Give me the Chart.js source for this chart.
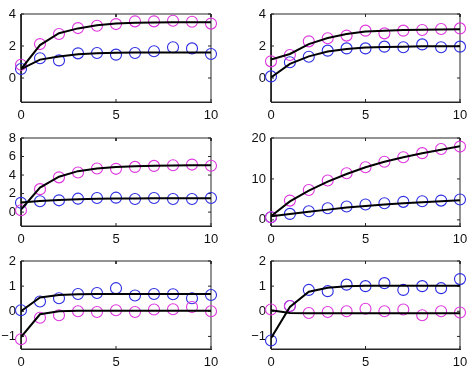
<!DOCTYPE html>
<html>
<head>
<meta charset="utf-8">
<script src="https://cdn.jsdelivr.net/npm/chart.js@4"></script>
<style>
  html, body { margin: 0; padding: 0; background: #ffffff; }
  body { width: 474px; height: 368px; position: relative; overflow: hidden; }
  .cv { position: absolute; }
</style>
</head>
<body>
<script>
// ---- data ----
const xValues = [0, 1, 2, 3, 4, 5, 6, 7, 8, 9, 10];
const xMin = 0, xMax = 10;
const xTickValues = [0, 5, 10];

const p1Magenta    = [0.83, 2.12, 2.75, 3.12, 3.27, 3.37, 3.54, 3.54, 3.58, 3.52, 3.40];
const p1MagentaFit = [0.55, 2.06, 2.80, 3.10, 3.30, 3.40, 3.45, 3.47, 3.48, 3.48, 3.48];
const p1Blue       = [0.56, 1.23, 1.10, 1.54, 1.56, 1.46, 1.56, 1.67, 1.92, 1.85, 1.50];
const p1BlueFit    = [0.55, 1.15, 1.35, 1.48, 1.55, 1.58, 1.60, 1.60, 1.60, 1.60, 1.60];
const p1YTicks = [0, 2, 4];

const p2Magenta    = [1.04, 1.44, 2.29, 2.48, 2.65, 2.96, 2.79, 2.96, 3.00, 3.06, 3.10];
const p2MagentaFit = [1.15, 1.50, 2.12, 2.50, 2.75, 2.90, 2.96, 3.00, 3.02, 3.03, 3.04];
const p2Blue       = [0.10, 0.98, 1.33, 1.71, 1.85, 1.85, 1.96, 1.92, 2.10, 1.92, 1.96];
const p2BlueFit    = [0.04, 0.88, 1.35, 1.65, 1.81, 1.90, 1.94, 1.96, 1.98, 1.98, 1.98];
const p2YTicks = [0, 2, 4];

const p3Magenta    = [0.20, 2.48, 3.75, 4.28, 4.70, 4.67, 4.88, 4.99, 5.06, 5.13, 5.00];
const p3MagentaFit = [0.28, 2.65, 3.82, 4.42, 4.70, 4.88, 4.95, 5.00, 5.03, 5.05, 5.06];
const p3Blue       = [1.00, 1.17, 1.27, 1.45, 1.52, 1.56, 1.42, 1.52, 1.42, 1.42, 1.52];
const p3BlueFit    = [1.05, 1.20, 1.30, 1.38, 1.43, 1.46, 1.48, 1.49, 1.50, 1.50, 1.50];
const p3YTicks = [0, 2, 4, 6, 8];

const p4Magenta    = [0.65, 4.70, 7.30, 9.60, 11.40, 12.85, 14.20, 15.30, 16.30, 17.30, 17.90];
const p4MagentaFit = [0.90, 4.50, 7.15, 9.35, 11.20, 12.85, 14.20, 15.30, 16.25, 17.15, 18.00];
const p4Blue       = [0.65, 1.46, 2.10, 2.85, 3.25, 3.74, 4.07, 4.40, 4.55, 4.70, 4.96];
const p4BlueFit    = [0.90, 1.46, 2.00, 2.50, 3.00, 3.40, 3.75, 4.07, 4.30, 4.55, 4.80];
const p4YTicks = [0, 10, 20];

const p5Magenta    = [-1.11, -0.26, -0.16, 0.00, -0.03, 0.04, -0.03, 0.07, 0.08, 0.17, 0.00];
const p5MagentaFit = [-1.03, -0.12, 0.00, 0.02, 0.02, 0.02, 0.02, 0.02, 0.02, 0.02, 0.02];
const p5Blue       = [0.04, 0.39, 0.52, 0.69, 0.73, 0.92, 0.63, 0.69, 0.68, 0.52, 0.65];
const p5BlueFit    = [0.00, 0.55, 0.65, 0.68, 0.69, 0.69, 0.69, 0.69, 0.69, 0.69, 0.69];
const p5YTicks = [-1, 0, 1, 2];

const p6Magenta    = [0.07, 0.21, -0.07, -0.03, 0.00, 0.10, 0.00, 0.07, -0.16, 0.00, -0.05];
const p6MagentaFit = [0.04, -0.07, -0.08, -0.08, -0.08, -0.08, -0.08, -0.08, -0.08, -0.08, -0.08];
const p6Blue       = [-1.16, 0.21, 0.85, 0.80, 1.06, 1.00, 1.12, 0.85, 1.00, 0.92, 1.28];
const p6BlueFit    = [-1.07, 0.17, 0.78, 0.94, 1.00, 1.02, 1.02, 1.02, 1.02, 1.02, 1.02];
const p6YTicks = [-1, 0, 1, 2];

const yMin = -1.5;
const yMaxes = [4, 4, 8, 20, 2, 2];

// ---- layout / style ----
const MAGENTA = 'rgb(222, 52, 222)';
const BLUE = 'rgb(44, 44, 226)';
const AXIS = '#262626';
const FONT = { family: '"Liberation Sans", Arial, Helvetica, sans-serif', size: 13 };
const TICK_PX = 3;

const panels = [
  { L: 21,  T: 14,  W: 190, H: 88, mag: p1Magenta, magFit: p1MagentaFit, blue: p1Blue, blueFit: p1BlueFit, yt: p1YTicks, i: 0 },
  { L: 271, T: 14,  W: 189, H: 88, mag: p2Magenta, magFit: p2MagentaFit, blue: p2Blue, blueFit: p2BlueFit, yt: p2YTicks, i: 1 },
  { L: 21,  T: 138, W: 190, H: 88, mag: p3Magenta, magFit: p3MagentaFit, blue: p3Blue, blueFit: p3BlueFit, yt: p3YTicks, i: 2 },
  { L: 271, T: 138, W: 189, H: 88, mag: p4Magenta, magFit: p4MagentaFit, blue: p4Blue, blueFit: p4BlueFit, yt: p4YTicks, i: 3 },
  { L: 21,  T: 261, W: 190, H: 88, mag: p5Magenta, magFit: p5MagentaFit, blue: p5Blue, blueFit: p5BlueFit, yt: p5YTicks, i: 4 },
  { L: 271, T: 261, W: 189, H: 88, mag: p6Magenta, magFit: p6MagentaFit, blue: p6Blue, blueFit: p6BlueFit, yt: p6YTicks, i: 5 }
];

function pts(arr) { return xValues.map((x, i) => ({ x: x, y: arr[i] })); }
const fmt = v => (v < 0 ? '\u2212' + Math.abs(v) : String(v));

panels.forEach(p => {
  const yw = Math.min(p.L, 30);
  const padTop = 10, padRight = 14, xh = 30;
  const ymax = yMaxes[p.i];
  const cv = document.createElement('canvas');
  cv.className = 'cv';
  const cw = p.W + yw + padRight, ch = p.H + padTop + xh;
  cv.style.left = (p.L - yw) + 'px';
  cv.style.top = (p.T - padTop) + 'px';
  cv.style.width = cw + 'px';
  cv.style.height = ch + 'px';
  cv.width = cw; cv.height = ch;
  document.body.appendChild(cv);

  // axes box (from the axis limits) and inward tick marks (at the tick values)
  const frame = [
    { x: xMin, y: yMin }, { x: xMax, y: yMin }, { x: xMax, y: ymax }, { x: xMin, y: ymax }, { x: xMin, y: yMin }
  ];
  const dy = TICK_PX * (ymax - yMin) / p.H;
  const dx = TICK_PX * (xMax - xMin) / p.W;
  const tickMarks = [];
  xTickValues.forEach(v => {
    tickMarks.push({ x: v, y: yMin }, { x: v, y: yMin + dy }, { x: v, y: null });
    tickMarks.push({ x: v, y: ymax }, { x: v, y: ymax - dy }, { x: v, y: null });
  });
  p.yt.forEach(v => {
    tickMarks.push({ x: xMin, y: v }, { x: xMin + dx, y: v }, { x: xMin, y: null });
    tickMarks.push({ x: xMax, y: v }, { x: xMax - dx, y: v }, { x: xMax, y: null });
  });

  const lineDs = (data) => ({
    data: pts(data), showLine: true, borderColor: '#000000', borderWidth: 2,
    pointRadius: 0, pointHoverRadius: 0, fill: false, tension: 0
  });
  const circDs = (data, color) => ({
    data: pts(data), showLine: false, pointStyle: 'circle', pointRadius: 5.5,
    pointBorderWidth: 1.1, pointBorderColor: color, pointBackgroundColor: 'rgba(0,0,0,0)',
    borderColor: color, backgroundColor: 'rgba(0,0,0,0)', clip: 8
  });
  const axisDs = (data) => ({
    data: data, showLine: true, spanGaps: false, borderColor: AXIS, borderWidth: 1,
    pointRadius: 0, pointHoverRadius: 0, fill: false, tension: 0, clip: 4
  });

  new Chart(cv, {
    type: 'scatter',
    data: {
      datasets: [
        lineDs(p.magFit),
        lineDs(p.blueFit),
        circDs(p.mag, MAGENTA),
        circDs(p.blue, BLUE),
        axisDs(tickMarks),
        axisDs(frame)
      ]
    },
    options: {
      responsive: false,
      animation: false,
      devicePixelRatio: 1,
      layout: { padding: { left: 0, top: padTop, right: padRight, bottom: 0 } },
      plugins: { legend: { display: false }, tooltip: { enabled: false } },
      scales: {
        x: {
          type: 'linear', position: 'bottom', min: xMin, max: xMax,
          afterBuildTicks: s => { s.ticks = xTickValues.map(v => ({ value: v })); },
          afterFit: s => { s.height = xh; s.paddingLeft = 0; s.paddingRight = 0; },
          grid: { display: false, drawTicks: false },
          border: { display: true, color: AXIS, width: 1 },
          ticks: { color: '#111', font: FONT, padding: 6, maxRotation: 0, autoSkip: false,
                   callback: v => String(v) }
        },
        y: {
          type: 'linear', position: 'left', min: yMin, max: ymax,
          afterBuildTicks: s => { s.ticks = p.yt.map(v => ({ value: v })); },
          afterFit: s => { s.width = yw; s.paddingTop = 0; s.paddingBottom = 0; },
          grid: { display: false, drawTicks: false },
          border: { display: true, color: AXIS, width: 1 },
          ticks: { color: '#111', font: FONT, padding: 5, autoSkip: false, callback: fmt }
        }
      }
    }
  });
});
</script>
</body>
</html>
